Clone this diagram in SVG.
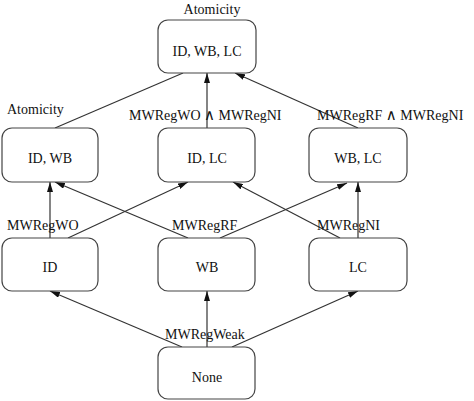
<svg xmlns="http://www.w3.org/2000/svg" width="474" height="401" viewBox="0 0 474 401">
<style>
.n{fill:#fff;stroke:#444;stroke-width:1.2}
.t{font-family:"Liberation Serif","Times New Roman",serif;font-size:14px;fill:#111}
.c{text-anchor:middle}
.w{font-family:"DejaVu Serif",serif;font-size:15px}
.e{stroke:#333;stroke-width:1.2;fill:none}
</style>
<defs>
<marker id="a" viewBox="0 0 10 6" refX="10" refY="3" markerWidth="10" markerHeight="6" markerUnits="userSpaceOnUse" orient="auto">
<path d="M0,0L10,3L0,6z" fill="#111"/>
</marker>
</defs>
<rect width="474" height="401" fill="#fff"/>
<g id="connectors">
<line class="e" x1="182" y1="347" x2="50" y2="291" marker-end="url(#a)"/>
<line class="e" x1="207" y1="347" x2="207" y2="291" marker-end="url(#a)"/>
<line class="e" x1="232" y1="347" x2="358" y2="291" marker-end="url(#a)"/>
<line class="e" x1="50" y1="238" x2="50" y2="182" marker-end="url(#a)"/>
<line class="e" x1="68" y1="238" x2="188" y2="182" marker-end="url(#a)"/>
<line class="e" x1="188" y1="238" x2="55" y2="182" marker-end="url(#a)"/>
<line class="e" x1="220" y1="238" x2="347" y2="183" marker-end="url(#a)"/>
<line class="e" x1="340" y1="238" x2="233" y2="182" marker-end="url(#a)"/>
<line class="e" x1="358" y1="238" x2="358" y2="182" marker-end="url(#a)"/>
<line class="e" x1="55" y1="128" x2="183" y2="73"/>
<line class="e" x1="207" y1="128" x2="207" y2="73" marker-end="url(#a)"/>
<line class="e" x1="358" y1="128" x2="235" y2="73" marker-end="url(#a)"/>
</g>
<g id="labels">
<text class="t c" x="212" y="14">Atomicity</text>
<text class="t" x="7" y="114">Atomicity</text>
<text class="t" x="129" y="120">MWRegWO <tspan class="w">∧</tspan> MWRegNI</text>
<text class="t" x="317" y="120">MWRegRF <tspan class="w">∧</tspan> MWRegNI</text>
<text class="t" x="7" y="230">MWRegWO</text>
<text class="t" x="172" y="230">MWRegRF</text>
<text class="t" x="317" y="230">MWRegNI</text>
<text class="t" x="165" y="339">MWRegWeak</text>
</g>
<g id="n-top"><rect class="n" x="158" y="20" width="98" height="53" rx="10"/><text class="t c" x="207" y="56">ID, WB, LC</text></g>
<g id="n-idwb"><rect class="n" x="2" y="128" width="96" height="54" rx="10"/><text class="t c" x="50" y="163">ID, WB</text></g>
<g id="n-idlc"><rect class="n" x="158" y="128" width="97" height="54" rx="10"/><text class="t c" x="207" y="163">ID, LC</text></g>
<g id="n-wblc"><rect class="n" x="309" y="128" width="98" height="54" rx="10"/><text class="t c" x="358" y="163">WB, LC</text></g>
<g id="n-id"><rect class="n" x="2" y="238" width="96" height="53" rx="10"/><text class="t c" x="50" y="272">ID</text></g>
<g id="n-wb"><rect class="n" x="158" y="238" width="97" height="53" rx="10"/><text class="t c" x="207" y="272">WB</text></g>
<g id="n-lc"><rect class="n" x="309" y="238" width="98" height="53" rx="10"/><text class="t c" x="358" y="272">LC</text></g>
<g id="n-none"><rect class="n" x="158" y="347" width="97" height="52" rx="10"/><text class="t c" x="207" y="382">None</text></g>
</svg>
